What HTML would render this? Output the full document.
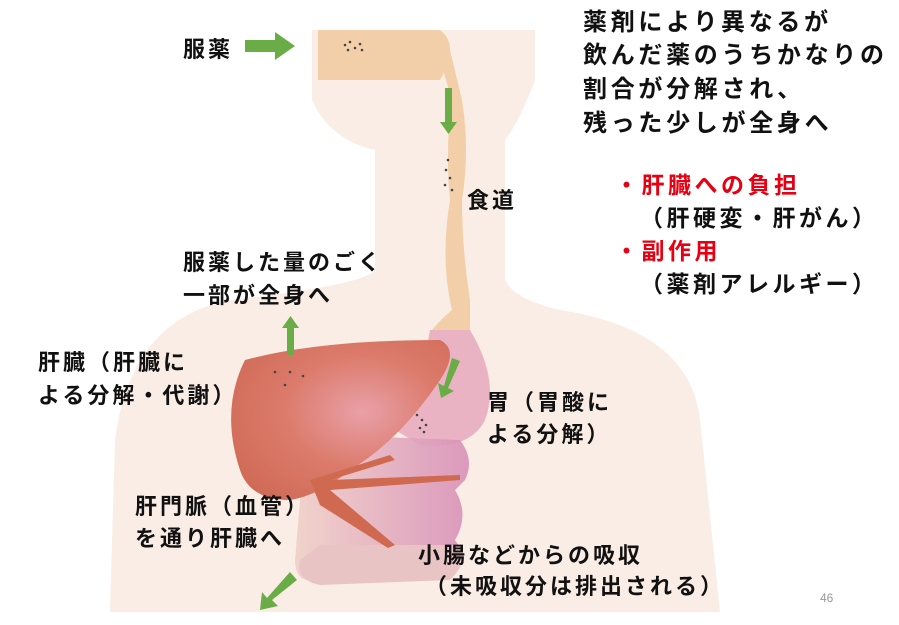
<!DOCTYPE html>
<html><head><meta charset="utf-8"><style>
html,body{margin:0;padding:0;background:#fff;}
svg{display:block}
text{font-family:"Liberation Sans","Noto Sans CJK JP",sans-serif;font-weight:bold;font-size:22px;letter-spacing:3px;fill:#111;}
.big{font-size:24px;letter-spacing:3.7px;}
.mid{font-size:23px;letter-spacing:3.5px;}
</style></head><body>
<svg width="899" height="625" viewBox="0 0 899 625" xmlns="http://www.w3.org/2000/svg">
<defs>
<radialGradient id="liv" cx="0.6" cy="0.45" r="0.7"><stop offset="0" stop-color="#e9a0a8"/><stop offset="0.5" stop-color="#dc7b6c"/><stop offset="1" stop-color="#cf6a55"/></radialGradient>
<linearGradient id="intg" x1="0" x2="1"><stop offset="0" stop-color="#f0d0c8"/><stop offset="1" stop-color="#d890b8"/></linearGradient>
</defs>
<path d="M312,30 L535,30 L535,80 Q520,120 505,140 L505,280 Q515,300 560,310 Q690,330 700,420 L720,612 L110,612 L115,440 Q130,320 230,300 Q365,285 375,270 L375,150 Q330,140 312,100 Z" fill="#f9ede5"/>
<path d="M318,30 L398,30 Q430,40 440,60 L452,100 Q445,150 450,200 Q440,260 452,310 Q440,320 432,330 L470,330 L470,300 Q462,250 462,200 Q470,150 462,100 L450,50 Q440,30 420,30 Z" fill="#f2cfa8"/>
<path d="M318,30 L440,30 Q460,45 440,80 L318,80 Z" fill="#f2cfa8"/>
<path d="M430,330 L470,330 Q500,380 485,420 Q470,450 420,445 L395,430 Q420,390 430,330Z" fill="#eab3c3"/>
<path d="M330,435 L460,440 Q475,460 465,480 L455,490 Q470,515 455,540 Q470,560 440,580 L320,580 Q295,585 295,560 L300,500 Q300,470 330,435Z" fill="url(#intg)" opacity="0.9"/>
<path d="M320,545 L460,545 Q470,560 450,580 L320,585 Q295,580 300,560Z" fill="#e9c4c4"/>
<path d="M245,360 Q320,340 440,340 Q460,350 440,380 Q400,440 350,470 Q320,495 290,500 Q250,500 240,470 Q220,410 245,360Z" fill="url(#liv)"/>
<path d="M310,480 L390,455 L395,460 L330,480 L460,475 L460,480 L330,490 L395,545 L388,548 L320,505 Z" fill="#cf6a50"/>
<g fill="#444"><circle cx="345" cy="45" r="1.3"/><circle cx="350" cy="42" r="1.3"/><circle cx="355" cy="48" r="1.3"/><circle cx="360" cy="44" r="1.3"/><circle cx="348" cy="50" r="1.3"/><circle cx="362" cy="50" r="1.3"/>
<circle cx="448" cy="160" r="1.3"/><circle cx="446" cy="170" r="1.3"/><circle cx="450" cy="178" r="1.3"/><circle cx="445" cy="185" r="1.3"/><circle cx="452" cy="190" r="1.3"/>
<circle cx="417" cy="415" r="1.3"/><circle cx="422" cy="420" r="1.3"/><circle cx="420" cy="428" r="1.3"/><circle cx="426" cy="425" r="1.3"/><circle cx="424" cy="432" r="1.3"/>
<circle cx="275" cy="372" r="1.3"/><circle cx="290" cy="372" r="1.3"/><circle cx="303" cy="376" r="1.3"/><circle cx="285" cy="385" r="1.3"/></g>
<g fill="#6aac45">
<path d="M245,40 L275,40 L275,32 L295,46 L275,60 L275,52 L245,52Z"/>
<path d="M445,88 L452,88 L452,122 L457,122 L448.5,134 L440,122 L445,122Z"/>
<path d="M287,355 L294,355 L294,328 L299,328 L290.5,316 L282,328 L287,328Z"/>
<path d="M452,358 L460,361 L448,388 L454,391 L441,398 L438,383 L444,386Z"/>
<path d="M290,572 L297,580 L272,600 L278,606 L260,610 L262,592 L267,598Z"/>
</g>
<text x="183" y="57">服薬</text>
<text class="big" x="583" y="30">薬剤により異なるが</text>
<text class="big" x="583" y="63">飲んだ薬のうちかなりの</text>
<text class="big" x="583" y="97">割合が分解され、</text>
<text class="big" x="583" y="131">残った少しが全身へ</text>
<text class="mid" x="615" y="193" style="fill:#e60012">・肝臓への負担</text>
<text class="mid" x="640" y="226">（肝硬変・肝がん）</text>
<text class="mid" x="615" y="259" style="fill:#e60012">・副作用</text>
<text class="mid" x="640" y="292">（薬剤アレルギー）</text>
<text x="467" y="208">食道</text>
<text x="183" y="270">服薬した量のごく</text>
<text x="183" y="303">一部が全身へ</text>
<text x="38" y="370">肝臓（肝臓に</text>
<text x="38" y="403">よる分解・代謝）</text>
<text x="487" y="410">胃（胃酸に</text>
<text x="487" y="442">よる分解）</text>
<text x="135" y="514">肝門脈（血管）</text>
<text x="135" y="546">を通り肝臓へ</text>
<text x="418" y="563">小腸などからの吸収</text>
<text x="425" y="594">（未吸収分は排出される）</text>
<text x="820" y="602" style="font-size:12px;font-weight:normal;letter-spacing:0;fill:#999">46</text>
</svg>
</body></html>
